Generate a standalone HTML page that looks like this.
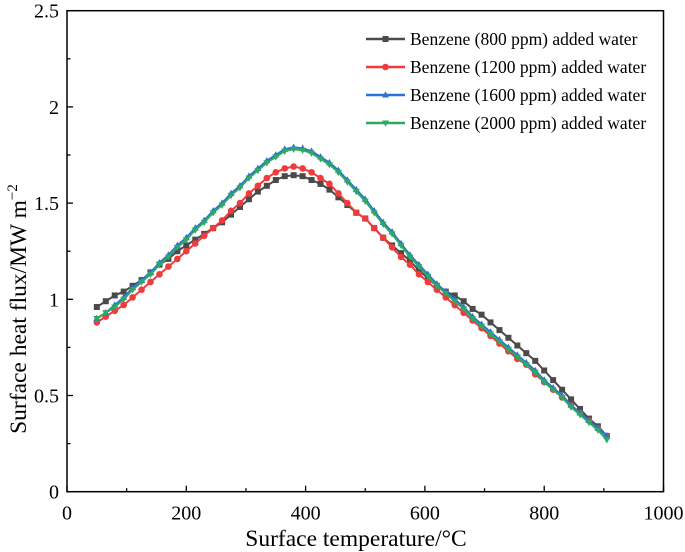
<!DOCTYPE html>
<html><head><meta charset="utf-8"><style>
body{margin:0;background:#fff}
svg{display:block;font-family:"Liberation Serif",serif}
</style></head><body>
<svg id="chart" width="685" height="552">
<g id="axes"></g><g id="series"></g><g id="legend"></g>
</svg>
<script>
const temps=[50,65,80,95,110,125,140,155,170,185,200,215,230,245,260,275,290,305,320,335,350,365,380,395,410,425,440,455,470,485,500,515,530,545,560,575,590,605,620,635,650,665,680,695,710,725,740,755,770,785,800,815,830,845,860,875,890,905];
const s800=[0.96,0.99,1.02,1.04,1.07,1.10,1.14,1.18,1.21,1.25,1.28,1.31,1.34,1.37,1.40,1.44,1.48,1.52,1.56,1.59,1.62,1.64,1.645,1.64,1.62,1.60,1.57,1.53,1.49,1.45,1.42,1.37,1.32,1.28,1.24,1.20,1.15,1.11,1.07,1.04,1.02,0.99,0.95,0.92,0.88,0.84,0.80,0.76,0.72,0.68,0.63,0.58,0.53,0.48,0.43,0.38,0.34,0.29];
const s1200=[0.88,0.91,0.94,0.97,1.01,1.05,1.09,1.13,1.17,1.21,1.25,1.29,1.33,1.37,1.41,1.46,1.50,1.55,1.59,1.63,1.66,1.68,1.69,1.68,1.66,1.63,1.60,1.55,1.50,1.45,1.42,1.37,1.32,1.27,1.22,1.18,1.13,1.09,1.05,1.01,0.97,0.93,0.89,0.85,0.81,0.77,0.73,0.69,0.66,0.61,0.57,0.53,0.49,0.45,0.41,0.37,0.33,0.29];
const s1600=[0.90,0.93,0.97,1.01,1.06,1.10,1.14,1.19,1.23,1.28,1.32,1.37,1.41,1.46,1.50,1.55,1.59,1.64,1.68,1.72,1.75,1.78,1.79,1.785,1.77,1.74,1.71,1.67,1.62,1.57,1.52,1.46,1.40,1.35,1.29,1.23,1.18,1.13,1.08,1.04,1.00,0.96,0.91,0.87,0.83,0.79,0.75,0.71,0.67,0.63,0.58,0.54,0.50,0.45,0.41,0.37,0.33,0.29];
const s2000=[0.90,0.93,0.96,1.00,1.05,1.09,1.13,1.18,1.22,1.27,1.31,1.36,1.40,1.45,1.49,1.54,1.58,1.63,1.67,1.71,1.74,1.77,1.78,1.775,1.76,1.73,1.70,1.66,1.61,1.56,1.51,1.45,1.39,1.34,1.28,1.22,1.17,1.12,1.07,1.03,0.99,0.95,0.90,0.86,0.82,0.78,0.74,0.70,0.66,0.62,0.57,0.53,0.49,0.44,0.40,0.36,0.32,0.27];
const xTicks=[0,200,400,600,800,1000];
const yTicks=[0,0.5,1,1.5,2,2.5];
const seriesNames=["Benzene (800 ppm) added water","Benzene (1200 ppm) added water","Benzene (1600 ppm) added water","Benzene (2000 ppm) added water"];

const NS="http://www.w3.org/2000/svg";
const X0=67,X1=663.5,Y0=491.7,Y1=10.7;
const xs=v=>X0+(v/1000)*(X1-X0);
const ys=v=>Y0-(v/2.5)*(Y0-Y1);
function mk(tag,attrs,parent){const e=document.createElementNS(NS,tag);for(const k in attrs)e.setAttribute(k,attrs[k]);parent.appendChild(e);return e;}
const axes=document.getElementById('axes');
const frame=mk('rect',{x:X0,y:Y1,width:X1-X0,height:Y0-Y1,fill:'none',stroke:'#000','stroke-width':1.5},axes);


for(let i=0;i<xTicks.length;i++){
  const v=xTicks[i];
  const t=mk('line',{x1:xs(v),x2:xs(v),y1:Y0,y2:Y0-6,stroke:'#000','stroke-width':1.3},axes);
  
  
  if(i<xTicks.length-1){const m=mk('line',{x1:xs(v+100),x2:xs(v+100),y1:Y0,y2:Y0-3.5,stroke:'#000','stroke-width':1.3},axes);
  
  }
  const l=mk('text',{x:xs(v),y:Y0+28,'text-anchor':'middle','font-size':20},axes);l.textContent=v;
  
  
}
for(let i=0;i<yTicks.length;i++){
  const v=yTicks[i];
  const t=mk('line',{x1:X0,x2:X0+6,y1:ys(v),y2:ys(v),stroke:'#000','stroke-width':1.3},axes);
  
  
  if(i<yTicks.length-1){const m=mk('line',{x1:X0,x2:X0+3.5,y1:ys(v+0.25),y2:ys(v+0.25),stroke:'#000','stroke-width':1.3},axes);
  
  }
  const l=mk('text',{x:X0-8,y:ys(v)+7,'text-anchor':'end','font-size':20},axes);l.textContent=v;
  
  
}
const xt=mk('text',{x:356,y:546,'text-anchor':'middle','font-size':23.5},axes);xt.textContent='Surface temperature/°C';


const yt=mk('text',{x:0,y:0,'text-anchor':'middle','font-size':23.5,transform:'translate(26,309) rotate(-90)'},axes);
yt.innerHTML='Surface heat flux/MW m<tspan dy="-9" font-size="15">−2</tspan>';



const colors=['#4a4a4a','#ef3b3b','#2b73d6','#2fa862'];
const data=[s800,s1200,s1600,s2000];
const shapes=['square','circle','tri-up','tri-down'];
function marker(g,shape,x,y,c){
  let e;
  if(shape==='square')e=mk('rect',{x:x-3,y:y-3,width:6,height:6,fill:c},g);
  else if(shape==='circle')e=mk('circle',{cx:x,cy:y,r:3.3,fill:c},g);
  else if(shape==='tri-up')e=mk('polygon',{points:`${x},${y-3.8} ${x-3.5},${y+2.5} ${x+3.5},${y+2.5}`,fill:c},g);
  else e=mk('polygon',{points:`${x},${y+3.8} ${x-3.5},${y-2.5} ${x+3.5},${y-2.5}`,fill:c},g);
  return e;
}
const sg=document.getElementById('series');
const lg=document.getElementById('legend');
data.forEach((arr,si)=>{
  const g=mk('g',{},sg);
  
  
  const pts=arr.map((v,i)=>xs(temps[i]).toFixed(1)+','+ys(v).toFixed(1)).join(' ');
  const pl=mk('polyline',{points:pts,fill:'none',stroke:colors[si],'stroke-width':2},g);
  
  
  arr.forEach((v,i)=>{const m=marker(g,shapes[si],xs(temps[i]),ys(v),colors[si]);
    
    });
  const ly=39+si*28;
  const e=mk('g',{},lg);
  
  
  mk('line',{x1:366,x2:405,y1:ly,y2:ly,stroke:colors[si],'stroke-width':2.5},e);
  marker(e,shapes[si],385.5,ly,colors[si]);
  const t=mk('text',{x:410,y:ly+6,'font-size':17.5},e);t.textContent=seriesNames[si];
});
</script>
</body></html>
